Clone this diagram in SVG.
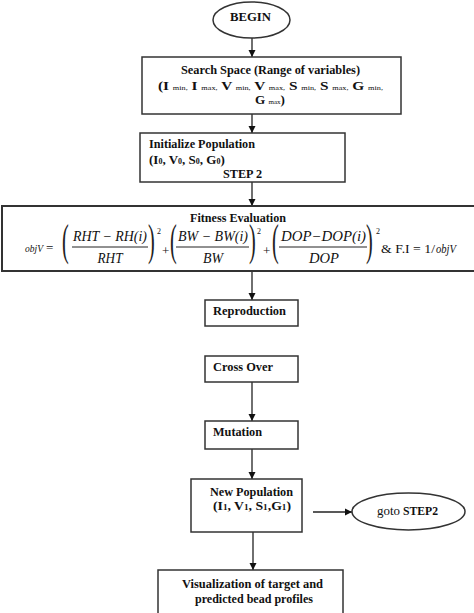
<svg xmlns="http://www.w3.org/2000/svg" width="474" height="613" viewBox="0 0 474 613">
<style>
.box{fill:#fff;stroke:#333;stroke-width:1.5}
.t{font-family:"Liberation Serif","Times New Roman",serif;font-weight:bold;font-size:13px;fill:#111}
.r{font-family:"Liberation Serif","Times New Roman",serif;font-size:13px;fill:#111}
.m{font-family:"Liberation Serif","Times New Roman",serif;font-style:italic;font-size:14px;fill:#111}
.sub{font-size:7px;font-weight:normal}
.sb{font-size:8px}
.p{font-family:"Liberation Serif","Times New Roman",serif;font-size:45px;fill:#222}
.sup{font-family:"Liberation Serif","Times New Roman",serif;font-size:8px;fill:#111}
.c{stroke:#222;stroke-width:1.3;fill:none}
</style>
<defs>
<marker id="ah" markerWidth="8" markerHeight="8" refX="7" refY="4" orient="auto" markerUnits="userSpaceOnUse">
<path d="M0,0.5 L7,4 L0,7.5 Z" fill="#111"/>
</marker>
</defs>
<rect width="474" height="613" fill="#fff"/>

<g id="connectors">
<line class="c" x1="252" y1="38" x2="252" y2="57" marker-end="url(#ah)"/>
<line class="c" x1="252" y1="114" x2="252" y2="133" marker-end="url(#ah)"/>
<line class="c" x1="252" y1="172" x2="252" y2="206" marker-end="url(#ah)"/>
<line class="c" x1="252" y1="271" x2="252" y2="300" marker-end="url(#ah)"/>
<line class="c" x1="252" y1="382" x2="252" y2="421" marker-end="url(#ah)"/>
<line class="c" x1="252" y1="449" x2="252" y2="479" marker-end="url(#ah)"/>
<line class="c" x1="313" y1="512" x2="352" y2="512" marker-end="url(#ah)"/>
<line class="c" x1="253" y1="532" x2="253" y2="570" marker-end="url(#ah)"/>
</g>

<g id="begin">
<ellipse cx="251.5" cy="20" rx="38.5" ry="18" class="box"/>
<text class="t" x="250.5" y="21" text-anchor="middle" textLength="41" lengthAdjust="spacingAndGlyphs">BEGIN</text>
</g>

<g id="search">
<rect class="box" x="142" y="57" width="259" height="57"/>
<text class="t" x="181" y="74" textLength="179" lengthAdjust="spacingAndGlyphs">Search Space (Range of variables)</text>
<text class="t" x="158" y="90" textLength="225" lengthAdjust="spacingAndGlyphs">(I <tspan class="sub">min,</tspan> I <tspan class="sub">max,</tspan> V <tspan class="sub">min,</tspan> V <tspan class="sub">max,</tspan> S <tspan class="sub">min,</tspan> S <tspan class="sub">max,</tspan> G <tspan class="sub">min,</tspan></text>
<text class="t" x="255" y="104" textLength="30" lengthAdjust="spacingAndGlyphs">G <tspan class="sub">max</tspan>)</text>
</g>

<g id="init">
<rect class="box" x="140" y="133" width="205" height="49"/>
<text class="t" x="149" y="148" textLength="106" lengthAdjust="spacingAndGlyphs">Initialize Population</text>
<text class="t" x="149" y="164">(I<tspan class="sb">0</tspan>, V<tspan class="sb">0</tspan>, S<tspan class="sb">0</tspan>, G<tspan class="sb">0</tspan>)</text>
<text class="t" x="223" y="178" textLength="39" lengthAdjust="spacingAndGlyphs">STEP 2</text>
</g>

<g id="fitness">
<rect class="box" x="2" y="206" width="480" height="65" style="stroke-width:2"/>
<text class="t" x="190" y="222" textLength="96" lengthAdjust="spacingAndGlyphs">Fitness Evaluation</text>
<text class="m" x="25" y="252" style="font-size:11px" textLength="18" lengthAdjust="spacingAndGlyphs">objV</text>
<text class="r" x="46" y="252">=</text>
<text class="p" transform="translate(62,255) scale(0.45,1)">(</text>
<text class="m" x="73" y="241" textLength="74" lengthAdjust="spacingAndGlyphs">RHT − RH(i)</text>
<line x1="72" y1="247" x2="148" y2="247" stroke="#222" stroke-width="1"/>
<text class="m" x="110" y="263" text-anchor="middle" textLength="25" lengthAdjust="spacingAndGlyphs">RHT</text>
<text class="p" transform="translate(148,255) scale(0.45,1)">)</text>
<text class="sup" x="157" y="234">2</text>
<text class="r" x="162" y="255">+</text>
<text class="p" transform="translate(170,255) scale(0.45,1)">(</text>
<text class="m" x="178" y="241" textLength="70" lengthAdjust="spacingAndGlyphs">BW − BW(i)</text>
<line x1="176" y1="247" x2="249" y2="247" stroke="#222" stroke-width="1"/>
<text class="m" x="213" y="263" text-anchor="middle" textLength="20" lengthAdjust="spacingAndGlyphs">BW</text>
<text class="p" transform="translate(249,255) scale(0.45,1)">)</text>
<text class="sup" x="257" y="234">2</text>
<text class="r" x="263" y="255">+</text>
<text class="p" transform="translate(272,255) scale(0.45,1)">(</text>
<text class="m" x="281" y="241" textLength="85" lengthAdjust="spacingAndGlyphs">DOP−DOP(i)</text>
<line x1="279" y1="247" x2="367" y2="247" stroke="#222" stroke-width="1"/>
<text class="m" x="324" y="263" text-anchor="middle" textLength="30" lengthAdjust="spacingAndGlyphs">DOP</text>
<text class="p" transform="translate(366,255) scale(0.45,1)">)</text>
<text class="sup" x="376" y="234">2</text>
<text class="r" x="381" y="253" textLength="54" lengthAdjust="spacingAndGlyphs">&amp; F.I = 1/</text>
<text class="m" x="436" y="253" style="font-size:12px" textLength="20" lengthAdjust="spacingAndGlyphs">objV</text>
</g>

<g id="reproduction">
<rect class="box" x="205" y="300" width="93" height="26"/>
<text class="t" x="213" y="315" textLength="73" lengthAdjust="spacingAndGlyphs">Reproduction</text>
</g>

<g id="crossover">
<rect class="box" x="205" y="356" width="93" height="26"/>
<text class="t" x="213" y="371" textLength="60" lengthAdjust="spacingAndGlyphs">Cross Over</text>
</g>

<g id="mutation">
<rect class="box" x="205" y="421" width="93" height="28"/>
<text class="t" x="213" y="436" textLength="49" lengthAdjust="spacingAndGlyphs">Mutation</text>
</g>

<g id="newpop">
<rect class="box" x="191" y="479" width="111" height="53"/>
<text class="t" x="210" y="496" style="font-size:12px" textLength="83" lengthAdjust="spacingAndGlyphs">New Population</text>
<text class="t" x="213" y="510" style="font-size:12px" textLength="78" lengthAdjust="spacingAndGlyphs">(I<tspan class="sb">1</tspan>, V<tspan class="sb">1</tspan>, S<tspan class="sb">1</tspan>,G<tspan class="sb">1</tspan>)</text>
</g>

<g id="goto">
<ellipse class="box" cx="408.5" cy="511.5" rx="56.5" ry="18.5"/>
<text class="r" x="377" y="515" textLength="23" lengthAdjust="spacingAndGlyphs">goto</text>
<text class="t" x="403" y="515" textLength="35" lengthAdjust="spacingAndGlyphs">STEP2</text>
</g>

<g id="visualization">
<rect class="box" x="158" y="570" width="185" height="60"/>
<text class="t" x="182" y="588" textLength="141" lengthAdjust="spacingAndGlyphs">Visualization  of target and</text>
<text class="t" x="195" y="603" textLength="118" lengthAdjust="spacingAndGlyphs">predicted bead profiles</text>
</g>
</svg>
